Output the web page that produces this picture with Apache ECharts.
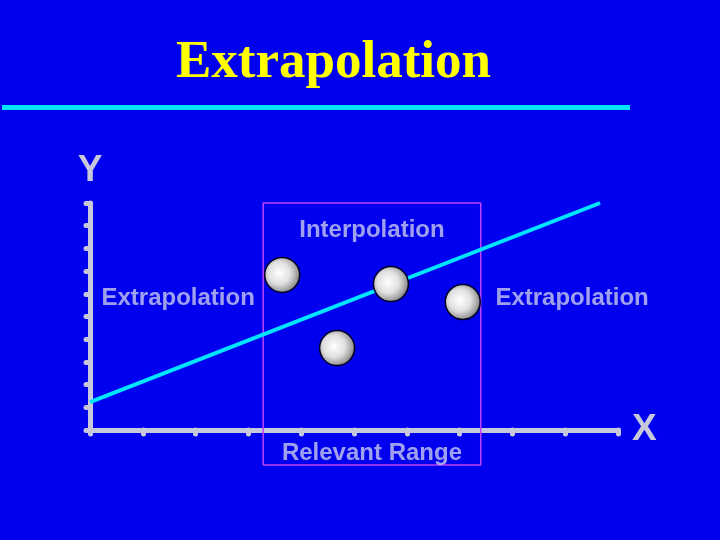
<!DOCTYPE html>
<html>
<head>
<meta charset="utf-8">
<script src="https://cdn.jsdelivr.net/npm/echarts@6/dist/echarts.min.js"></script>
<style>
  html, body { margin: 0; padding: 0; background: #0000ee; }
  #chart { width: 720px; height: 540px; }
</style>
</head>
<body>
<div id="chart"></div>
<script>
// observed points (x, y)
var pointsX = [3.64, 5.70, 7.06, 4.68];
var pointsY = [6.83, 6.43, 5.64, 3.61];

// fitted line endpoints
var lineX = [0, 9.66];
var lineY = [1.23, 10.0];

// relevant range box corners
var rangeX = [3.28, 7.40];
var rangeY = [-1.54, 10];

// text annotations
var noteText = ["Interpolation", "Extrapolation", "Extrapolation", "Relevant Range"];
var noteX = [5.34, 1.67, 9.13, 5.34];
var noteY = [8.81, 5.81, 5.81, -1.01];

var axisColor = "#c8c8dc";
var labelColor = "#c8c8f0";

var chart = echarts.init(document.getElementById("chart"));

// closed box through the range corners
var boxData = [
  [rangeX[0], rangeY[0]], [rangeX[0], rangeY[1]], [rangeX[1], rangeY[1]],
  [rangeX[1], rangeY[0]], [rangeX[0], rangeY[0]]
];

var option = {
  backgroundColor: "#0000ee",
  animation: false,
  grid: { left: 90, right: 102, top: 203, bottom: 110 },
  graphic: [
    {
      type: "text",
      left: 176,
      top: 37,
      style: {
        text: "Extrapolation",
        font: "bold 53px 'Liberation Serif'",
        fill: "#ffff00"
      }
    },
    {
      type: "rect",
      shape: { x: 2, y: 105, width: 628, height: 5 },
      style: { fill: "#00e5ff" }
    }
  ],
  xAxis: {
    type: "value",
    min: 0,
    max: 10,
    interval: 1,
    name: "X",
    nameLocation: "end",
    nameGap: 14,
    nameTextStyle: { color: axisColor, fontSize: 37, fontWeight: "bold", fontFamily: "Liberation Sans", verticalAlign: "middle" },
    axisLine: { lineStyle: { color: axisColor, width: 5, cap: "round" } },
    axisTick: { show: true, length: 4, lineStyle: { color: axisColor, width: 5, cap: "round" } },
    axisLabel: { show: false },
    splitLine: { show: false }
  },
  yAxis: {
    type: "value",
    min: 0,
    max: 10,
    interval: 1,
    name: "Y",
    nameLocation: "end",
    nameGap: 14,
    nameTextStyle: { color: axisColor, fontSize: 37, fontWeight: "bold", fontFamily: "Liberation Sans", align: "center" },
    axisLine: { lineStyle: { color: axisColor, width: 5, cap: "round" } },
    axisTick: { show: true, length: 4, lineStyle: { color: axisColor, width: 5, cap: "round" } },
    axisLabel: { show: false },
    splitLine: { show: false }
  },
  series: [
    {
      type: "line",
      data: boxData,
      symbol: "none",
      clip: false,
      silent: true,
      z: 1,
      lineStyle: { color: "#c040ff", width: 1.5 }
    },
    {
      type: "line",
      data: lineX.map(function (x, i) { return [x, lineY[i]]; }),
      symbol: "none",
      lineStyle: { color: "#00e5ff", width: 4 },
      z: 3,
      clip: false
    },
    {
      type: "scatter",
      data: pointsX.map(function (x, i) { return [x, pointsY[i]]; }),
      symbolSize: 35,
      z: 4,
      itemStyle: {
        opacity: 1,
        color: {
          type: "radial", x: 0.42, y: 0.45, r: 0.6,
          colorStops: [
            { offset: 0, color: "#ffffff" },
            { offset: 0.5, color: "#e0e0e0" },
            { offset: 0.85, color: "#9a9a9a" },
            { offset: 1, color: "#505050" }
          ]
        },
        borderColor: "#000022",
        borderWidth: 1.5
      }
    },
    {
      type: "scatter",
      data: noteX.map(function (x, i) { return [x, noteY[i], noteText[i]]; }),
      symbolSize: 0,
      clip: false,
      silent: true,
      label: {
        show: true,
        position: "inside",
        formatter: function (p) { return p.value[2]; },
        color: labelColor,
        fontSize: 24,
        fontWeight: "bold",
        fontFamily: "Liberation Sans"
      }
    }
  ]
};

chart.setOption(option);
</script>
</body>
</html>
